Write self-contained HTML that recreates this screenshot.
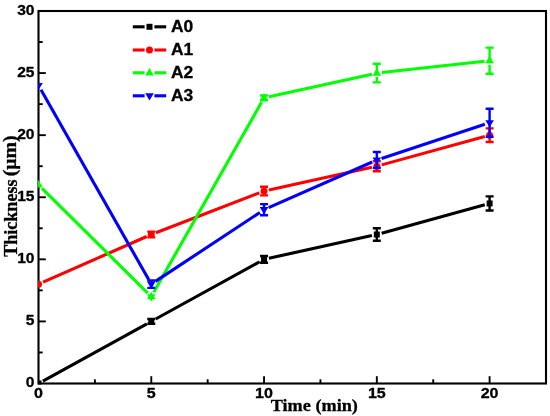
<!DOCTYPE html>
<html><head><meta charset="utf-8"><title>Thickness vs Time</title>
<style>html,body{margin:0;padding:0;background:#fff}svg{display:block}.t{font-family:"Liberation Sans",Arial,sans-serif;font-weight:bold;font-size:15.3px;fill:#000;stroke:#000;stroke-width:0.3px}.l{font-family:"Liberation Sans",Arial,sans-serif;font-weight:bold;font-size:16px;fill:#000;stroke:#000;stroke-width:0.3px}.a{font-family:"Liberation Serif","Times New Roman",serif;font-weight:bold;font-size:18px;fill:#000;stroke:#000;stroke-width:0.3px}</style></head><body>
<svg width="550" height="416" viewBox="0 0 550 416">
<rect width="550" height="416" fill="#fff"/>
<defs><clipPath id="cp"><rect x="38.0" y="11.0" width="507.5" height="373.5"/></clipPath></defs>
<g stroke="#000" stroke-width="1.9" fill="none"><line x1="38.5" y1="352.46" x2="42.7" y2="352.46"/><line x1="38.5" y1="321.42" x2="45.8" y2="321.42"/><line x1="38.5" y1="290.38" x2="42.7" y2="290.38"/><line x1="38.5" y1="259.33" x2="45.8" y2="259.33"/><line x1="38.5" y1="228.29" x2="42.7" y2="228.29"/><line x1="38.5" y1="197.25" x2="45.8" y2="197.25"/><line x1="38.5" y1="166.21" x2="42.7" y2="166.21"/><line x1="38.5" y1="135.17" x2="45.8" y2="135.17"/><line x1="38.5" y1="104.12" x2="42.7" y2="104.12"/><line x1="38.5" y1="73.08" x2="45.8" y2="73.08"/><line x1="38.5" y1="42.04" x2="42.7" y2="42.04"/><line x1="94.89" y1="383.5" x2="94.89" y2="379.3"/><line x1="151.28" y1="383.5" x2="151.28" y2="376.2"/><line x1="207.66" y1="383.5" x2="207.66" y2="379.3"/><line x1="264.05" y1="383.5" x2="264.05" y2="376.2"/><line x1="320.44" y1="383.5" x2="320.44" y2="379.3"/><line x1="376.82" y1="383.5" x2="376.82" y2="376.2"/><line x1="433.21" y1="383.5" x2="433.21" y2="379.3"/><line x1="489.60" y1="383.5" x2="489.60" y2="376.2"/></g>
<rect x="38.5" y="11.0" width="507.5" height="372.5" fill="none" stroke="#000" stroke-width="2.1"/>
<g clip-path="url(#cp)">
<g stroke="#000000" fill="none"><line x1="42.88" y1="381.09" x2="146.89" y2="323.83" stroke-width="3.1"/><line x1="155.66" y1="319.01" x2="259.67" y2="261.74" stroke-width="3.1"/><line x1="268.93" y1="258.26" x2="371.94" y2="235.58" stroke-width="3.1"/><line x1="381.65" y1="233.17" x2="484.78" y2="204.79" stroke-width="3.1"/><path d="M151.28 319.06V323.78M147.28 319.06H155.28M147.28 323.78H155.28" stroke-width="2.4"/><path d="M264.05 255.98V262.69M260.05 255.98H268.05M260.05 262.69H268.05" stroke-width="2.4"/><path d="M376.82 228.29V240.71M372.82 228.29H380.82M372.82 240.71H380.82" stroke-width="2.4"/><path d="M489.60 196.38V210.54M485.60 196.38H493.60M485.60 210.54H493.60" stroke-width="2.4"/></g><rect x="35.50" y="380.50" width="6" height="6" fill="#000000"/><rect x="148.28" y="318.42" width="6" height="6" fill="#000000"/><rect x="261.05" y="256.33" width="6" height="6" fill="#000000"/><rect x="373.82" y="231.50" width="6" height="6" fill="#000000"/><rect x="486.60" y="200.46" width="6" height="6" fill="#000000"/>
<g stroke="#ff0000" fill="none"><line x1="43.08" y1="282.15" x2="146.70" y2="236.52" stroke-width="3.1"/><line x1="155.94" y1="232.70" x2="259.38" y2="192.84" stroke-width="3.1"/><line x1="268.93" y1="189.97" x2="371.94" y2="167.28" stroke-width="3.1"/><line x1="381.65" y1="164.88" x2="484.78" y2="136.49" stroke-width="3.1"/><path d="M151.28 231.64V237.36M147.28 231.64H155.28M147.28 237.36H155.28" stroke-width="2.4"/><path d="M264.05 186.70V195.39M260.05 186.70H268.05M260.05 195.39H268.05" stroke-width="2.4"/><path d="M376.82 161.24V171.18M372.82 161.24H380.82M372.82 171.18H380.82" stroke-width="2.4"/><path d="M489.60 128.34V142.00M485.60 128.34H493.60M485.60 142.00H493.60" stroke-width="2.4"/></g><circle cx="38.50" cy="284.17" r="3.5" fill="#ff0000"/><circle cx="151.28" cy="234.50" r="3.5" fill="#ff0000"/><circle cx="264.05" cy="191.04" r="3.5" fill="#ff0000"/><circle cx="376.82" cy="166.21" r="3.5" fill="#ff0000"/><circle cx="489.60" cy="135.17" r="3.5" fill="#ff0000"/>
<g stroke="#00ff00" fill="none"><line x1="42.05" y1="188.35" x2="147.72" y2="293.06" stroke-width="3.1"/><line x1="153.74" y1="292.24" x2="261.58" y2="102.26" stroke-width="3.1"/><line x1="268.93" y1="96.84" x2="371.94" y2="74.16" stroke-width="3.1"/><line x1="381.79" y1="72.54" x2="484.63" y2="61.21" stroke-width="3.1"/><path d="M264.05 95.43V100.40M260.05 95.43H268.05M260.05 100.40H268.05" stroke-width="2.4"/><path d="M376.82 63.77V73.08M376.82 77.08V82.40M372.82 63.77H380.82M372.82 82.40H380.82" stroke-width="2.4"/><path d="M489.60 47.63V60.67M489.60 64.67V73.70M485.60 47.63H493.60M485.60 73.70H493.60" stroke-width="2.4"/></g><polygon points="38.50,180.03 34.20,187.43 42.80,187.43" fill="#00ff00"/><polygon points="151.28,291.78 146.97,299.18 155.58,299.18" fill="#00ff00"/><polygon points="151.28,301.48 147.08,294.28 155.47,294.28" fill="#00ff00"/><polygon points="264.05,93.12 259.75,100.52 268.35,100.52" fill="#00ff00"/><polygon points="376.82,68.28 372.52,75.68 381.12,75.68" fill="#00ff00"/><polygon points="489.60,55.87 485.30,63.27 493.90,63.27" fill="#00ff00"/>
<g stroke="#0000ff" fill="none"><line x1="40.97" y1="89.85" x2="148.81" y2="279.82" stroke-width="3.1"/><line x1="155.45" y1="281.41" x2="259.88" y2="212.42" stroke-width="3.1"/><line x1="268.63" y1="207.65" x2="372.25" y2="162.02" stroke-width="3.1"/><line x1="381.57" y1="158.43" x2="484.85" y2="124.32" stroke-width="3.1"/><path d="M151.28 280.44V287.89M147.28 280.44H155.28M147.28 287.89H155.28" stroke-width="2.4"/><path d="M264.05 204.08V215.25M260.05 204.08H268.05M260.05 215.25H268.05" stroke-width="2.4"/><path d="M376.82 151.93V168.07M372.82 151.93H380.82M372.82 168.07H380.82" stroke-width="2.4"/><path d="M489.60 108.72V136.78M485.60 108.72H493.60M485.60 136.78H493.60" stroke-width="2.4"/></g><polygon points="38.50,90.10 34.20,82.90 42.80,82.90" fill="#0000ff"/><polygon points="151.28,288.77 146.97,281.57 155.58,281.57" fill="#0000ff"/><polygon points="264.05,214.27 259.75,207.07 268.35,207.07" fill="#0000ff"/><polygon points="376.82,164.60 372.52,157.40 381.12,157.40" fill="#0000ff"/><polygon points="489.60,127.35 485.30,120.15 493.90,120.15" fill="#0000ff"/>
</g>
<text class="t" transform="translate(34.5,387.20) scale(1.02,1)" text-anchor="end">0</text>
<text class="t" transform="translate(34.5,325.12) scale(1.02,1)" text-anchor="end">5</text>
<text class="t" transform="translate(34.5,263.03) scale(1.02,1)" text-anchor="end">10</text>
<text class="t" transform="translate(34.5,200.95) scale(1.02,1)" text-anchor="end">15</text>
<text class="t" transform="translate(34.5,138.87) scale(1.02,1)" text-anchor="end">20</text>
<text class="t" transform="translate(34.5,76.78) scale(1.02,1)" text-anchor="end">25</text>
<text class="t" transform="translate(34.5,14.70) scale(1.02,1)" text-anchor="end">30</text>
<text class="t" transform="translate(38.50,397.8) scale(1.05,1)" text-anchor="middle">0</text>
<text class="t" transform="translate(151.28,397.8) scale(1.05,1)" text-anchor="middle">5</text>
<text class="t" transform="translate(264.05,397.8) scale(1.05,1)" text-anchor="middle">10</text>
<text class="t" transform="translate(376.82,397.8) scale(1.05,1)" text-anchor="middle">15</text>
<text class="t" transform="translate(489.60,397.8) scale(1.05,1)" text-anchor="middle">20</text>
<text class="a" transform="translate(314.3,410.8) scale(1.035,1)" text-anchor="middle" style="font-size:17.6px">Time (min)</text>
<text class="a" transform="translate(16.8,256.8) rotate(-90) scale(1.01,1)" style="font-size:17.9px">Thickness <tspan dx="-1.2" dy="-0.4" style="font-size:19.6px">(μm)</tspan></text>
<g stroke="#000000" stroke-width="3.1"><line x1="132.8" y1="26.8" x2="144.6" y2="26.8"/><line x1="154.4" y1="26.8" x2="166.2" y2="26.8"/></g>
<rect x="146.50" y="23.80" width="6" height="6" fill="#000000"/>
<text class="l" transform="translate(171.0,32.10) scale(1.09,1)">A0</text>
<g stroke="#ff0000" stroke-width="3.1"><line x1="132.8" y1="50.0" x2="144.6" y2="50.0"/><line x1="154.4" y1="50.0" x2="166.2" y2="50.0"/></g>
<circle cx="149.50" cy="50.00" r="3.5" fill="#ff0000"/>
<text class="l" transform="translate(171.0,55.30) scale(1.09,1)">A1</text>
<g stroke="#00ff00" stroke-width="3.1"><line x1="132.8" y1="72.8" x2="144.6" y2="72.8"/><line x1="154.4" y1="72.8" x2="166.2" y2="72.8"/></g>
<polygon points="149.50,68.00 145.20,75.40 153.80,75.40" fill="#00ff00"/>
<text class="l" transform="translate(171.0,78.10) scale(1.09,1)">A2</text>
<g stroke="#0000ff" stroke-width="3.1"><line x1="132.8" y1="95.8" x2="144.6" y2="95.8"/><line x1="154.4" y1="95.8" x2="166.2" y2="95.8"/></g>
<polygon points="149.50,100.40 145.20,93.20 153.80,93.20" fill="#0000ff"/>
<text class="l" transform="translate(171.0,101.10) scale(1.09,1)">A3</text>
</svg></body></html>
